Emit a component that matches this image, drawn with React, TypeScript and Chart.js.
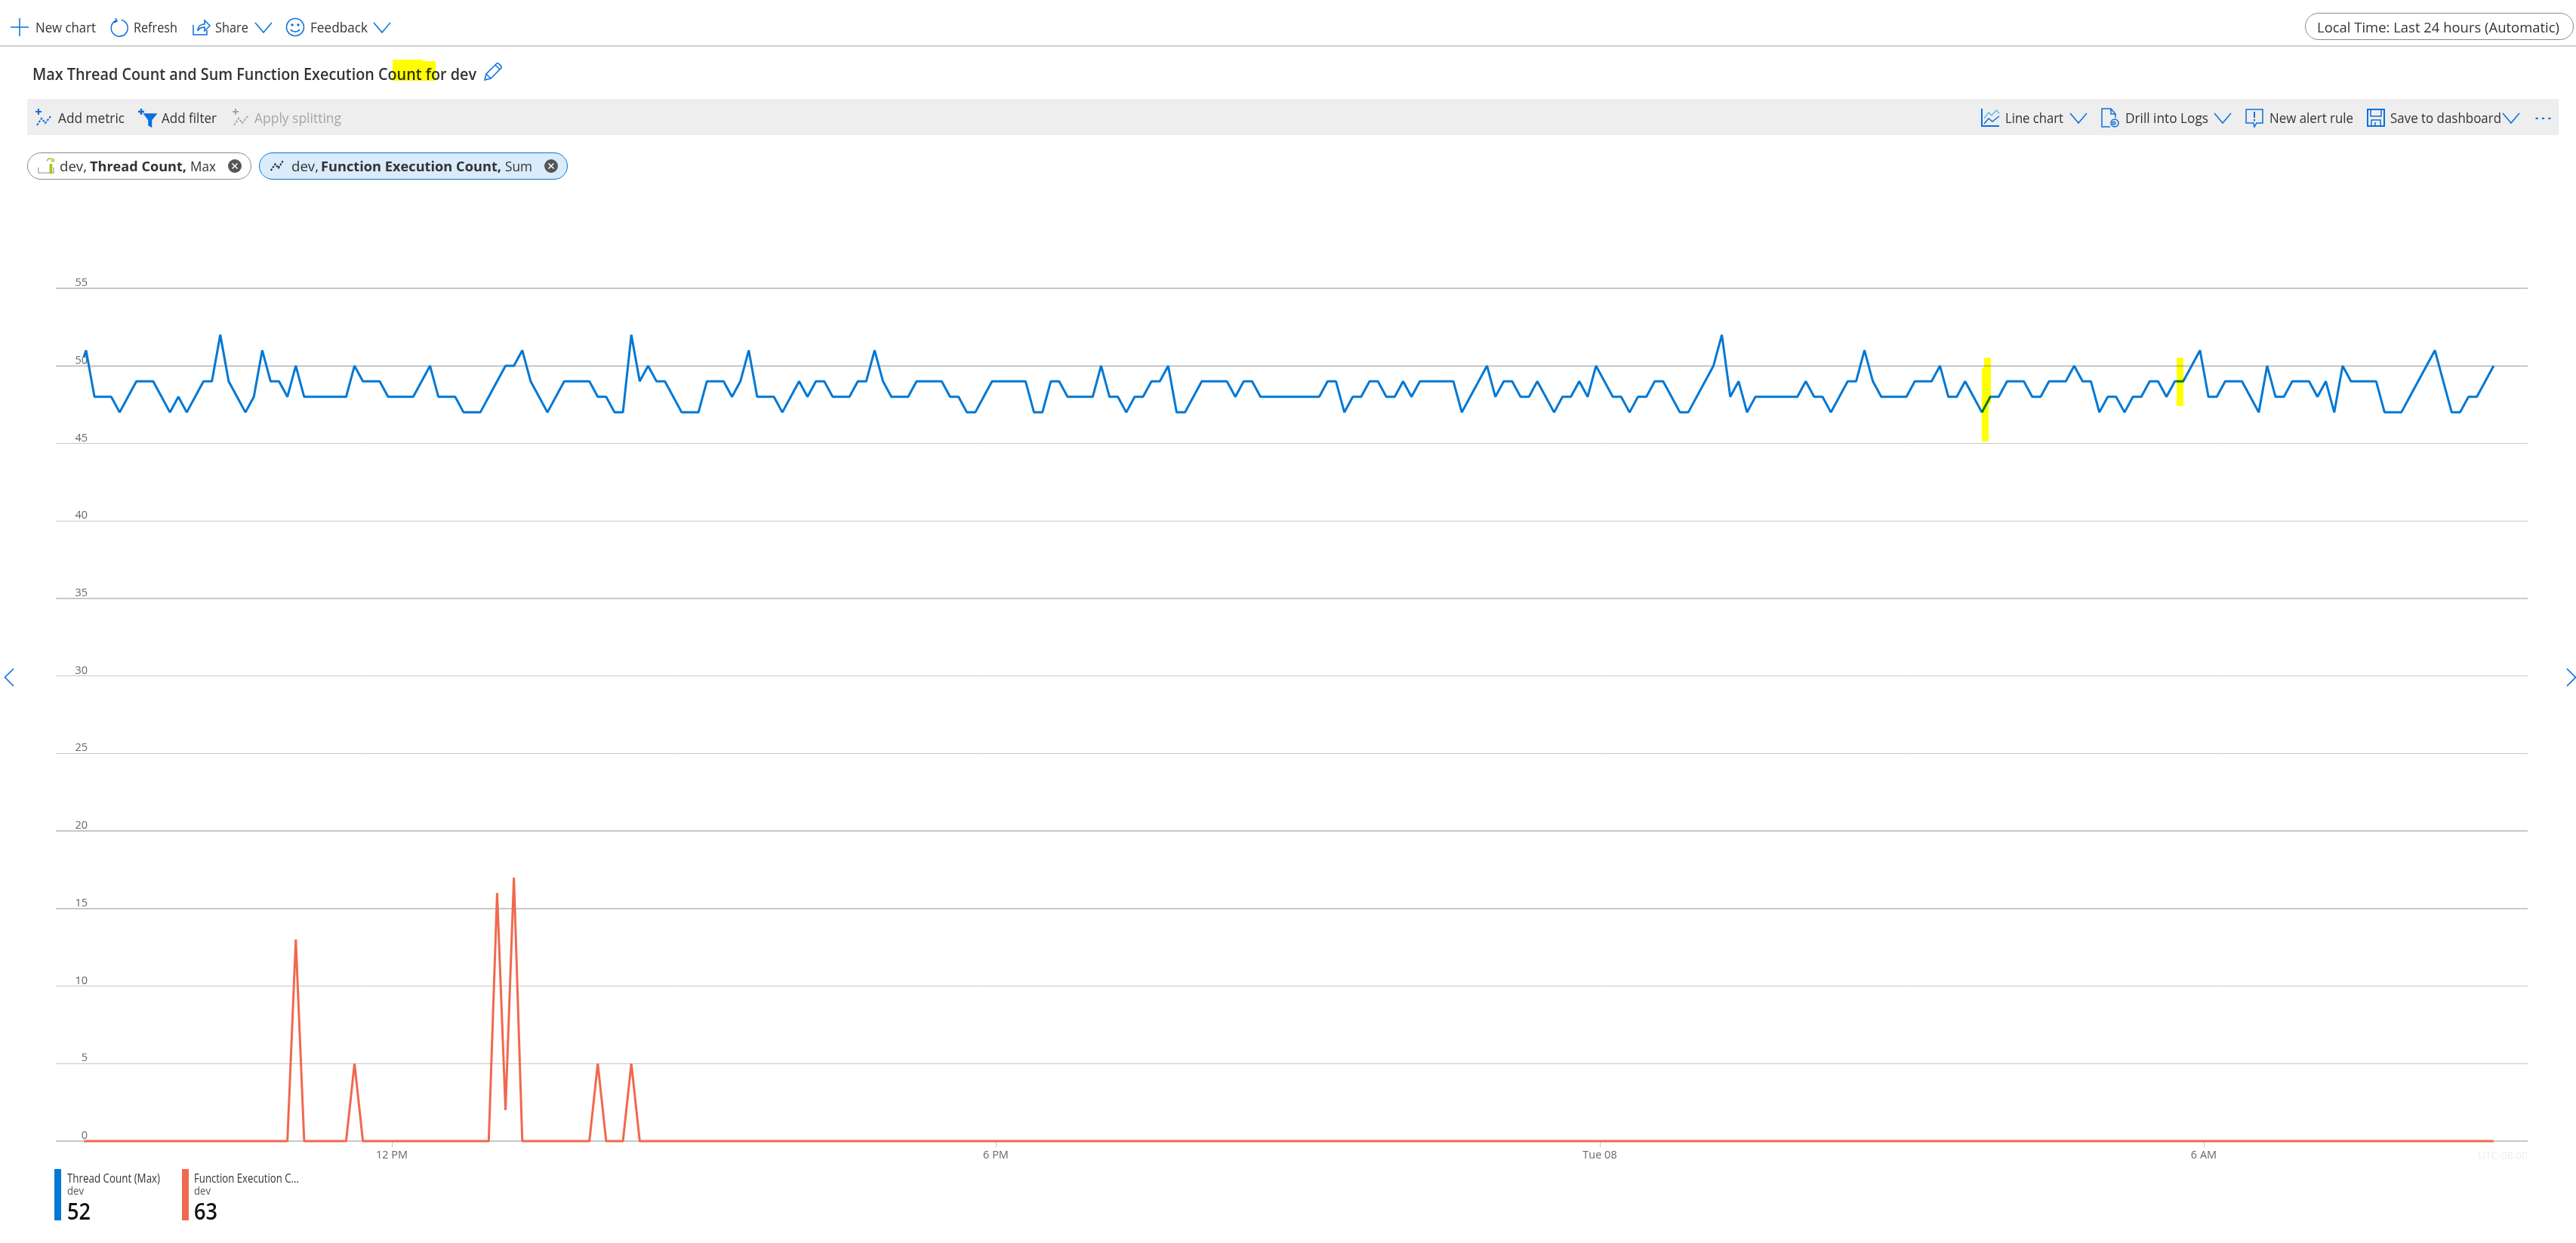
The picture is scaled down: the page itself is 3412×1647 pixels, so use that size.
import React, { useEffect, useRef } from "react";
import { Chart, registerables } from "chart.js";

Chart.register(...registerables);

const threadCountMax: number[] = [
  51, 48, 48, 48, 47, 48, 49, 49, 49, 48, 47, 48, 47, 48, 49, 49, 52, 49, 48, 47,
  48, 51, 49, 49, 48, 50, 48, 48, 48, 48, 48, 48, 50, 49, 49, 49, 48, 48, 48, 48,
  49, 50, 48, 48, 48, 47, 47, 47, 48, 49, 50, 50, 51, 49, 48, 47, 48, 49, 49, 49,
  49, 48, 48, 47, 47, 52, 49, 50, 49, 49, 48, 47, 47, 47, 49, 49, 49, 48, 49, 51,
  48, 48, 48, 47, 48, 49, 48, 49, 49, 48, 48, 48, 49, 49, 51, 49, 48, 48, 48, 49,
  49, 49, 49, 48, 48, 47, 47, 48, 49, 49, 49, 49, 49, 47, 47, 49, 49, 48, 48, 48,
  48, 50, 48, 48, 47, 48, 48, 49, 49, 50, 47, 47, 48, 49, 49, 49, 49, 48, 49, 49,
  48, 48, 48, 48, 48, 48, 48, 48, 49, 49, 47, 48, 48, 49, 49, 48, 48, 49, 48, 49,
  49, 49, 49, 49, 47, 48, 49, 50, 48, 49, 49, 48, 48, 49, 48, 47, 48, 48, 49, 48,
  50, 49, 48, 48, 47, 48, 48, 49, 49, 48, 47, 47, 48, 49, 50, 52, 48, 49, 47, 48,
  48, 48, 48, 48, 48, 49, 48, 48, 47, 48, 49, 49, 51, 49, 48, 48, 48, 48, 49, 49,
  49, 50, 48, 48, 49, 48, 47, 48, 48, 49, 49, 49, 48, 48, 49, 49, 49, 50, 49, 49,
  47, 48, 48, 47, 48, 48, 49, 49, 48, 49, 49, 50, 51, 48, 48, 49, 49, 49, 48, 47,
  50, 48, 48, 49, 49, 49, 48, 49, 47, 50, 49, 49, 49, 49, 47, 47, 47, 48, 49, 50,
  51, 49, 47, 47, 48, 48, 49, 50,
];

const functionExecutionCount: number[] = [
  0, 0, 0, 0, 0, 0, 0, 0, 0, 0, 0, 0, 0, 0, 0, 0, 0, 0, 0, 0,
  0, 0, 0, 0, 0, 13, 0, 0, 0, 0, 0, 0, 5, 0, 0, 0, 0, 0, 0, 0,
  0, 0, 0, 0, 0, 0, 0, 0, 0, 16, 2, 17, 0, 0, 0, 0, 0, 0, 0, 0,
  0, 5, 0, 0, 0, 5, 0, 0, 0, 0, 0, 0, 0, 0, 0, 0, 0, 0, 0, 0,
  0, 0, 0, 0, 0, 0, 0, 0, 0, 0, 0, 0, 0, 0, 0, 0, 0, 0, 0, 0,
  0, 0, 0, 0, 0, 0, 0, 0, 0, 0, 0, 0, 0, 0, 0, 0, 0, 0, 0, 0,
  0, 0, 0, 0, 0, 0, 0, 0, 0, 0, 0, 0, 0, 0, 0, 0, 0, 0, 0, 0,
  0, 0, 0, 0, 0, 0, 0, 0, 0, 0, 0, 0, 0, 0, 0, 0, 0, 0, 0, 0,
  0, 0, 0, 0, 0, 0, 0, 0, 0, 0, 0, 0, 0, 0, 0, 0, 0, 0, 0, 0,
  0, 0, 0, 0, 0, 0, 0, 0, 0, 0, 0, 0, 0, 0, 0, 0, 0, 0, 0, 0,
  0, 0, 0, 0, 0, 0, 0, 0, 0, 0, 0, 0, 0, 0, 0, 0, 0, 0, 0, 0,
  0, 0, 0, 0, 0, 0, 0, 0, 0, 0, 0, 0, 0, 0, 0, 0, 0, 0, 0, 0,
  0, 0, 0, 0, 0, 0, 0, 0, 0, 0, 0, 0, 0, 0, 0, 0, 0, 0, 0, 0,
  0, 0, 0, 0, 0, 0, 0, 0, 0, 0, 0, 0, 0, 0, 0, 0, 0, 0, 0, 0,
  0, 0, 0, 0, 0, 0, 0, 0,
];

// Time axis: minutes since Monday 00:00, binned every 5 minutes.
const firstBinMinute = 537.75;
const binMinutes = 5;
const leadInMinute = 536.4;
const leadInThread = 50.56;
const leadInExec = 0;
const axisMinMinute = 519.75;
const axisMaxMinute = 1993.05;
const yLabelAnchorMinute = 538.65;
const xTickMinutes = [720, 1080, 1440, 1800];
const xTickLabels = ["12 PM", "6 PM", "Tue 08", "6 AM"];
const yTickStep = 5;
const yMax = 55;
const thickGridValues = [55, 50, 35, 20, 15, 0];

const BLUE = "#0078d4";
const ORANGE = "#f0694f";
const GRID = "#c8c8c8";
const TEXT = "#333333";
const ICON = "#0a6fdc";
const FONT = '"Open Sans", "Noto Sans", sans-serif';

const toPoints = (lead: number, values: number[]) => [
  { x: leadInMinute, y: lead },
  ...values.map((y, i) => ({ x: firstBinMinute + i * binMinutes, y })),
];

const measureCtx = document.createElement("canvas").getContext("2d")!;

function T(p: { x: number; y: number; w?: number; size?: number; weight?: number; color?: string; children: string }) {
  const size = p.size ?? 18;
  const weight = p.weight ?? 400;
  let sx = 1;
  if (p.w) {
    measureCtx.font = `${weight} ${size}px ${FONT}`;
    sx = p.w / measureCtx.measureText(p.children).width;
  }
  return (
    <span
      style={{
        position: "absolute",
        left: p.x,
        top: p.y - size,
        lineHeight: `${size * 2}px`,
        fontSize: size,
        fontWeight: weight,
        fontFamily: FONT,
        color: p.color ?? TEXT,
        whiteSpace: "pre",
        transform: `scaleX(${sx})`,
        transformOrigin: "left center",
      }}
    >
      {p.children}
    </span>
  );
}

function Box(p: { x: number; y: number; w: number; h: number; style?: React.CSSProperties }) {
  return <div style={{ position: "absolute", left: p.x, top: p.y, width: p.w, height: p.h, boxSizing: "border-box", ...p.style }} />;
}

function Ico(p: { x: number; y: number; s?: number; children: React.ReactNode }) {
  const s = p.s ?? 24;
  return (
    <svg
      style={{ position: "absolute", left: p.x, top: p.y - s / 2, width: s, height: s, overflow: "visible" }}
      viewBox="0 0 24 24"
      fill="none"
      stroke={ICON}
      strokeWidth={1.5}
    >
      {p.children}
    </svg>
  );
}

const Chev = (p: { x: number; y: number }) => (
  <Ico x={p.x} y={p.y}>
    <path d="M1 6 L12 19 L23 6" />
  </Ico>
);

const CloseDot = (p: { x: number; y: number }) => (
  <svg style={{ position: "absolute", left: p.x, top: p.y - 9, width: 18, height: 18 }} viewBox="0 0 18 18">
    <circle cx="9" cy="9" r="9" fill="#555" />
    <path d="M5.5 5.5 L12.5 12.5 M12.5 5.5 L5.5 12.5" stroke="#fff" strokeWidth="1.5" />
  </svg>
);

const MetricIcon = (p: { x: number; y: number; color?: string }) => (
  <Ico x={p.x} y={p.y}>
    <g stroke={p.color ?? ICON}>
      <path d="M3 22 L9 13 L14 19 L22 9" strokeDasharray="3 1.5" strokeWidth="2" />
      <path d="M5 0 V8 M1 4 H9" strokeWidth="2" />
    </g>
  </Ico>
);

export default function App() {
  const canvasRef = useRef<HTMLCanvasElement>(null);

  useEffect(() => {
    document.body.style.margin = "0";
    document.body.style.overflow = "hidden";
    const chart = new Chart(canvasRef.current!, {
      type: "line",
      data: {
        datasets: [
          {
            label: "Thread Count (Max)",
            data: toPoints(leadInThread, threadCountMax),
            borderColor: BLUE,
            borderWidth: 3,
            pointRadius: 0,
            tension: 0,
            borderJoinStyle: "bevel",
            fill: false,
            clip: false,
          },
          {
            label: "Function Execution Count (Sum)",
            data: toPoints(leadInExec, functionExecutionCount),
            borderColor: ORANGE,
            borderWidth: 3,
            pointRadius: 0,
            tension: 0,
            borderJoinStyle: "bevel",
            fill: false,
            clip: false,
          },
        ],
      },
      options: {
        responsive: false,
        animation: false,
        events: [],
        layout: { padding: { left: 74, top: 382, right: 64, bottom: 105 } },
        plugins: { legend: { display: false }, tooltip: { enabled: false }, title: { display: false } },
        scales: {
          x: {
            type: "linear",
            min: axisMinMinute,
            max: axisMaxMinute,
            afterBuildTicks: (s: any) => {
              s.ticks = xTickMinutes.map((value) => ({ value }));
            },
            afterFit: (s: any) => {
              s.height = 30;
            },
            border: { display: false },
            grid: { drawOnChartArea: false, drawTicks: true, tickLength: 8, color: GRID, lineWidth: 1 },
            ticks: {
              autoSkip: false,
              maxRotation: 0,
              padding: 2,
              color: "#666666",
              font: { family: FONT, size: 14.5 },
              callback: (v: any) => xTickLabels[xTickMinutes.indexOf(Number(v))] ?? "",
            },
          },
          y: {
            type: "linear",
            min: 0,
            max: yMax,
            position: { x: yLabelAnchorMinute } as any,
            border: { display: false },
            grid: {
              color: GRID,
              drawTicks: false,
              lineWidth: (c: any) => (thickGridValues.includes(c.tick?.value) ? 2 : 1),
            },
            ticks: {
              stepSize: yTickStep,
              color: "#666666",
              font: { family: FONT, size: 14.5 },
              labelOffset: -7,
              padding: 0,
            },
          },
        },
      },
    });
    return () => chart.destroy();
  }, []);

  return (
    <div style={{ position: "absolute", left: 0, top: 0, width: 3412, height: 1647, background: "#fff", overflow: "hidden" }}>
      {/* Top command bar */}
      <Ico x={14} y={36}>
        <path d="M12 0 V24 M0 12 H24" />
      </Ico>
      <T x={47} y={36} w={80}>New chart</T>
      <Ico x={145} y={36}>
        <path d="M9 3 A11 11 0 1 0 16 2.5 M8 0 L10 4 L6 6" />
      </Ico>
      <T x={177} y={36} w={58}>Refresh</T>
      <Ico x={254} y={36}>
        <path d="M2 9 V22 H20 V16 M8 17 C8 10 13 8 17 8 V3 L24 10 L17 17 V12 C13 12 10 13 8 17" />
      </Ico>
      <T x={285} y={36} w={44}>Share</T>
      <Chev x={337} y={36} />
      <Ico x={379} y={36}>
        <circle cx="12" cy="12" r="11.5" />
        <circle cx="8" cy="9" r="1" fill={ICON} />
        <circle cx="16" cy="9" r="1" fill={ICON} />
        <path d="M6 15 C9 19 15 19 18 15" />
      </Ico>
      <T x={411} y={36} w={76}>Feedback</T>
      <Chev x={494} y={36} />
      <Box x={3053} y={17} w={356} h={36} style={{ border: "1px solid #8a8a8a", borderRadius: 18 }} />
      <T x={3069} y={36} w={321}>Local Time: Last 24 hours (Automatic)</T>
      <Box x={0} y={60} w={3412} h={2} style={{ background: "#d0d0d0" }} />

      {/* Title */}
      <T x={43} y={97} w={588} size={22} weight={600}>Max Thread Count and Sum Function Execution Count for dev</T>
      <Box x={520} y={79} w={40} h={28} style={{ background: "#ffff00", mixBlendMode: "multiply" }} />
      <Box x={560} y={81} w={17} h={26} style={{ background: "#ffff00", mixBlendMode: "multiply" }} />
      <Ico x={641} y={95}>
        <path d="M1 23 L3 15 L17 1 C19 0 24 5 23 7 L9 21 Z M3 15 L9 21 M15 3 L21 9" />
      </Ico>

      {/* Metric toolbar */}
      <Box x={36} y={131} w={3353} h={48} style={{ background: "#eeeeee" }} />
      <MetricIcon x={46} y={156} />
      <T x={77} y={156} w={88}>Add metric</T>
      <Ico x={183} y={156}>
        <path d="M8 7 H24 L17.5 15 V24 L14 22 V15 Z" fill={ICON} />
        <path d="M4 0 V8 M0 4 H8" strokeWidth="2.5" />
      </Ico>
      <T x={214} y={156} w={73}>Add filter</T>
      <MetricIcon x={307} y={156} color="#a6a6a6" />
      <T x={337} y={156} w={115} color="#a6a6a6">Apply splitting</T>
      <Ico x={2624} y={156}>
        <path d="M1 0 V23 H24" strokeWidth="2" />
        <path d="M4 13 L10 5 L14 9 L20 2 L24 6" stroke="#62b6e8" />
        <path d="M4 20 L10 13 L15 17 L24 10" />
      </Ico>
      <T x={2656} y={156} w={77}>Line chart</T>
      <Chev x={2741} y={156} />
      <Ico x={2783} y={156}>
        <path d="M12 24 H1 V0 H13 L19 7 V12 M13 0 V7 H19" />
        <circle cx="18" cy="19" r="5" />
        <circle cx="17" cy="19" r="1.8" />
      </Ico>
      <T x={2815} y={156} w={110}>Drill into Logs</T>
      <Chev x={2932} y={156} />
      <Ico x={2974} y={156}>
        <path d="M1 1 H23 V19 H15 L12 24 L11 19 H1 Z" />
        <path d="M12 4 V12 M12 14 V16.5" strokeWidth="2" />
      </Ico>
      <T x={3006} y={156} w={111}>New alert rule</T>
      <Ico x={3135} y={156}>
        <path d="M1 1 H23 V23 H1 Z" strokeWidth="2" />
        <path d="M5 1 V10 H19 V1 M6 23 V15 H18 V23 M11 18 V23" />
      </Ico>
      <T x={3166} y={156} w={147}>Save to dashboard</T>
      <Chev x={3314} y={156} />
      <T x={3356} y={156} w={25} color={ICON} size={18}>···</T>

      {/* Metric pills */}
      <Box x={36} y={202} w={297} h={36} style={{ border: "1px solid #8a8a8a", borderRadius: 18, background: "#fff" }} />
      <Ico x={50} y={220} s={22}>
        <path d="M1 14 V22 H23 V14" stroke="#a6a6a6" />
        <path d="M19 9 V23" stroke="#a4c21a" strokeWidth="4" />
        <path d="M13 5 C15 0 20 0 21 4 M19 5 H23 V1" stroke="#a4c21a" />
      </Ico>
      <T x={79} y={220} w={36}>dev,</T>
      <T x={119} y={220} w={128} weight={700}>Thread Count,</T>
      <T x={252} y={220} w={34}>Max</T>
      <CloseDot x={302} y={220} />
      <Box x={343} y={202} w={409} h={36} style={{ border: "1px solid #0078d4", borderRadius: 18, background: "#daebfb" }} />
      <Ico x={358} y={220} s={20}>
        <path d="M1 19 L8 9 L13 15 L20 4" stroke="#222" strokeDasharray="3 2" strokeWidth="2.5" />
      </Ico>
      <T x={386} y={220} w={36}>dev,</T>
      <T x={425} y={220} w={239} weight={700}>Function Execution Count,</T>
      <T x={669} y={220} w={36}>Sum</T>
      <CloseDot x={721} y={220} />

      {/* Chart */}
      <canvas ref={canvasRef} width={3412} height={1647} style={{ position: "absolute", left: 0, top: 0, display: "block" }} />

      {/* Marker highlights over the line */}
      <Box x={2625} y={488} w={9} h={97} style={{ background: "#ffff00", mixBlendMode: "multiply" }} />
      <Box x={2628} y={474} w={9} h={60} style={{ background: "#ffff00", mixBlendMode: "multiply" }} />
      <Box x={2883} y={474} w={9} h={64} style={{ background: "#ffff00", mixBlendMode: "multiply" }} />

      <T x={3282} y={1531} w={66} color="#eeeeee" size={14}>UTC-08:00</T>

      {/* Paging chevrons */}
      <svg style={{ position: "absolute", left: 0, top: 880, width: 24, height: 36 }} viewBox="0 0 24 36" fill="none" stroke={ICON} strokeWidth="1.6">
        <path d="M18 6 L6.5 17.5 L18 29" />
      </svg>
      <svg style={{ position: "absolute", left: 3388, top: 880, width: 24, height: 36 }} viewBox="0 0 24 36" fill="none" stroke={ICON} strokeWidth="1.6">
        <path d="M12 6 L23.5 17.5 L12 29" />
      </svg>

      {/* Legend */}
      <Box x={72} y={1549} w={9} h={68} style={{ background: BLUE }} />
      <T x={89} y={1561} w={123} size={16}>Thread Count (Max)</T>
      <T x={89} y={1577} w={22} size={15} color="#555555">dev</T>
      <T x={89} y={1605} w={31} size={30} weight={600} color="#111111">52</T>
      <Box x={241} y={1549} w={9} h={68} style={{ background: ORANGE }} />
      <T x={257} y={1561} w={139} size={16}>Function Execution C...</T>
      <T x={257} y={1577} w={22} size={15} color="#555555">dev</T>
      <T x={257} y={1605} w={31} size={30} weight={600} color="#111111">63</T>
    </div>
  );
}
